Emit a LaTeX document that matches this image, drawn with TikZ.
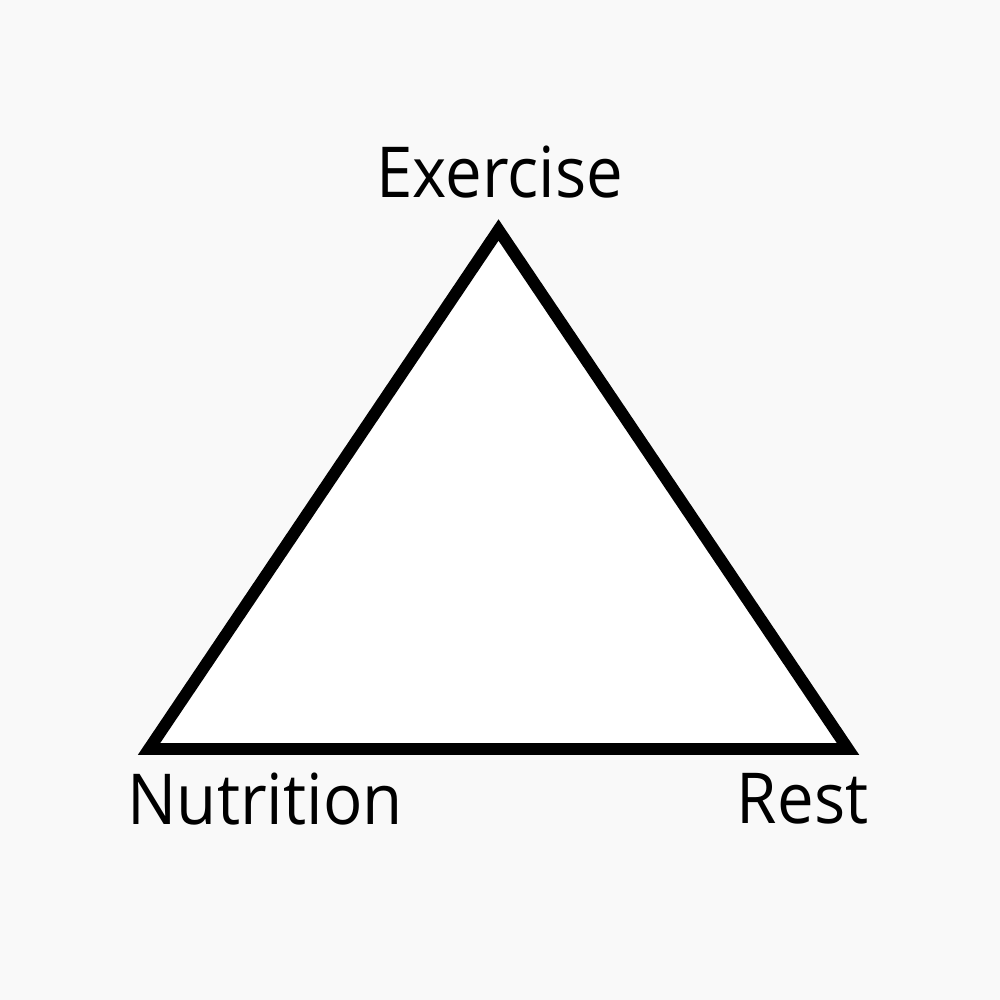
\documentclass[tikz,border=0pt]{standalone}
\usepackage{fontspec}
\setmainfont[FakeStretch=0.93]{Open Sans}
\definecolor{paper}{RGB}{249,249,249}

\begin{document}
\begin{tikzpicture}[auto, x=1cm, y=1cm,
    lbl/.style={inner sep=0pt, font=\fontsize{20}{24}\selectfont}]
        \fill[paper] (0, 0) rectangle (10, 10);
        \useasboundingbox (0, 0) rectangle (10, 10);
        \coordinate (E) at (4.985, 7.70);
        \coordinate (N) at (1.49, 2.51);
        \coordinate (R) at (8.48, 2.51);
        \node[lbl, anchor=base] (exercise) at (4.995, 8.02) {Exercise};
        \node[lbl, anchor=base west] (nutrition) at (1.27, 1.75) {Nutrition};
        \node[lbl, anchor=base east] (rest) at (8.69, 1.76) {Rest};
        \draw[line width=3.4pt, line join=miter, fill=white] (E) -- (R) -- (N) -- cycle;

      \end{tikzpicture}
\end{document}
